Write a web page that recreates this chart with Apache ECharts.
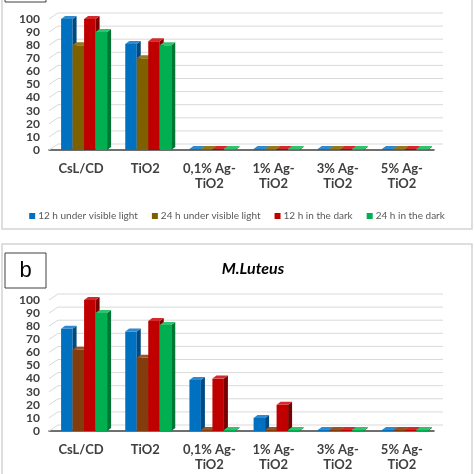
<!DOCTYPE html>
<html>
<head>
<meta charset="utf-8">
<script src="https://cdn.jsdelivr.net/npm/echarts@6/dist/echarts.min.js"></script>
<style>
  html,body{margin:0;padding:0;background:#fff;}
  #chart{width:474px;height:474px;}
</style>
</head>
<body>
<div id="chart"></div>
<script>
// two stacked panels (a, b), 3D-looking clustered columns drawn with custom series
const CATS=['CsL/CD','TiO2','0,1% Ag-\nTiO2','1% Ag-\nTiO2','3% Ag-\nTiO2','5% Ag-\nTiO2'];
const NAMES=['12 h under visible light','24 h under visible light','12 h in the dark','24 h in the dark'];
const TICKS=[0,10,20,30,40,50,60,70,80,90,100];

// panel a
const A_12H_LIGHT=[100,81,0,0,0,0];
const A_24H_LIGHT=[80,70,0,0,0,0];
const A_12H_DARK=[100,83,0,0,0,0];
const A_24H_DARK=[90,80,0,0,0,0];
// panel b : M.Luteus
const B_12H_LIGHT=[78,76,39,10,0,0];
const B_24H_LIGHT=[62,56,0,0,0,0];
const B_12H_DARK=[100,84,40,20,0,0];
const B_24H_DARK=[90,81,0,0,0,0];

// front / side / top colours
const COL_A=[['#0070c0','#004a80','#2f8ad0'],['#7f6000','#4f3c00','#98781a'],
             ['#c00000','#7a0000','#d42a2a'],['#00b050','#007534','#2ec46c']];
const COL_B=[COL_A[0],['#843c0c','#552606','#9c5222'],COL_A[2],COL_A[3]];

const BW=11.5, DX=4, DY=3;      // bar front width, depth
const WX=9, WY=6;               // back wall offset

function barSeries(name,vals,cols,si,g){
  return {name,type:'custom',xAxisIndex:g,yAxisIndex:g,z:3,
    itemStyle:{color:cols[0]},
    data:vals.map((v,i)=>[i,v]),
    renderItem:(params,api)=>{
      const top=api.coord([api.value(0),api.value(1)]);
      const base=api.coord([api.value(0),0]);
      const x0=top[0]-20+si*BW;
      const yT=Math.min(top[1],base[1]-1), yB=base[1];
      return {type:'group',children:[
        {type:'rect',shape:{x:x0,y:yT,width:BW,height:yB-yT},style:{fill:cols[0]}},
        {type:'polygon',shape:{points:[[x0+BW,yT],[x0+BW+DX,yT-DY],[x0+BW+DX,yB-DY],[x0+BW,yB]]},style:{fill:cols[1]}},
        {type:'polygon',shape:{points:[[x0,yT],[x0+DX,yT-DY],[x0+BW+DX,yT-DY],[x0+BW,yT]]},style:{fill:cols[2]}},
      ]};
    }};
}
function wallSeries(g){
  return {name:'wall'+g,type:'custom',xAxisIndex:g,yAxisIndex:g,z:1,silent:true,
    data:TICKS.map(t=>[0,t]),
    renderItem:(params,api)=>{
      const p=api.coord([0,api.value(1)]), cs=params.coordSys;
      return {type:'polyline',shape:{points:[[cs.x,p[1]],[cs.x+WX,p[1]-WY],[cs.x+cs.width+WX,p[1]-WY]]},
        style:{stroke:'#d9d9d9',lineWidth:1,fill:null}};
    }};
}

const FONT='Lato';
const xAx=g=>({type:'category',gridIndex:g,data:CATS,offset:2,
  axisLine:{lineStyle:{color:'#404040',width:1.5}},axisTick:{show:false},
  axisLabel:{interval:0,margin:9,fontFamily:FONT,fontWeight:'bold',fontSize:13,color:'#404040',lineHeight:15}});
const yAx=g=>({type:'value',gridIndex:g,min:0,max:100,interval:10,
  axisLine:{show:false},axisTick:{show:false},splitLine:{show:false},
  axisLabel:{margin:9,fontFamily:FONT,fontWeight:'bold',fontSize:12,color:'#404040'}});

const chart=echarts.init(document.getElementById('chart'));
chart.setOption({
  backgroundColor:'#fff',
  animation:false,
  grid:[{left:49,top:19,width:385,height:131},{left:49,top:300,width:385,height:131}],
  xAxis:[xAx(0),xAx(1)],
  yAxis:[yAx(0),yAx(1)],
  legend:{data:NAMES,top:206,left:'center',icon:'rect',itemWidth:6,itemHeight:6,itemGap:14,
    textStyle:{fontFamily:FONT,fontSize:10,color:'#595959',padding:[0,0,0,-2]}},
  graphic:[
    {type:'rect',shape:{x:2,y:-10,width:470,height:239},style:{fill:null,stroke:'#d4d4d4',lineWidth:1.5},z:-1},
    {type:'rect',shape:{x:2,y:244,width:470,height:240},style:{fill:null,stroke:'#d4d4d4',lineWidth:1.5},z:-1},
    {type:'rect',shape:{x:5,y:-30,width:41,height:32},style:{fill:'#fff',stroke:'#404040',lineWidth:1}},
    {type:'rect',shape:{x:5,y:253,width:41,height:35},style:{fill:'#fff',stroke:'#404040',lineWidth:1}},
    {type:'text',x:25.5,y:271,style:{text:'b',fontFamily:'Liberation Sans',fontSize:22,fill:'#000',align:'center',verticalAlign:'middle'}},
    {type:'text',x:253,y:269,style:{text:'M.Luteus',fontFamily:FONT,fontWeight:'bold',fontStyle:'italic',fontSize:16,fill:'#000',align:'center',verticalAlign:'middle'}},
  ],
  series:[
    wallSeries(0),wallSeries(1),
    barSeries(NAMES[0],A_12H_LIGHT,COL_A[0],0,0),
    barSeries(NAMES[1],A_24H_LIGHT,COL_A[1],1,0),
    barSeries(NAMES[2],A_12H_DARK,COL_A[2],2,0),
    barSeries(NAMES[3],A_24H_DARK,COL_A[3],3,0),
    barSeries(NAMES[0],B_12H_LIGHT,COL_B[0],0,1),
    barSeries(NAMES[1],B_24H_LIGHT,COL_B[1],1,1),
    barSeries(NAMES[2],B_12H_DARK,COL_B[2],2,1),
    barSeries(NAMES[3],B_24H_DARK,COL_B[3],3,1),
  ],
});
</script>
</body>
</html>
